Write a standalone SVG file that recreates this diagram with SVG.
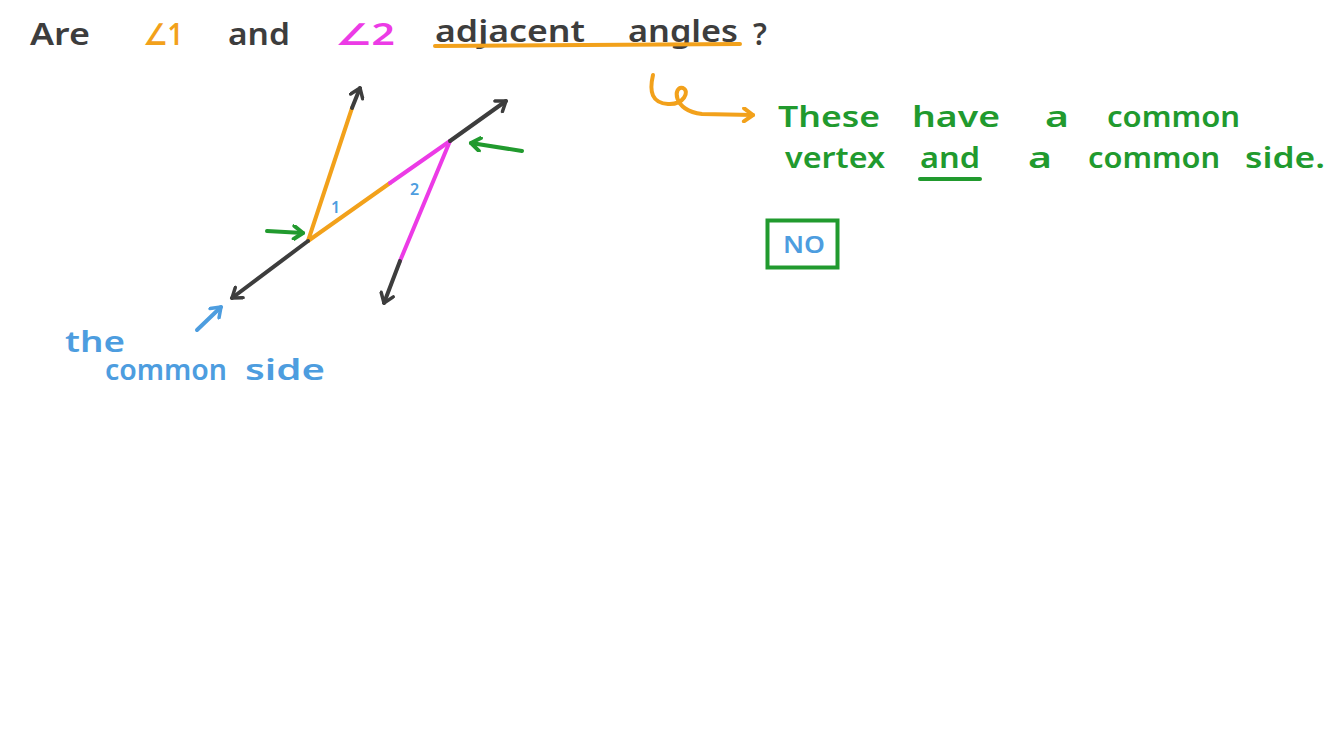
<svg xmlns="http://www.w3.org/2000/svg" width="1344" height="756" viewBox="0 0 1344 756">
<style>
  .t { font-family: "Noto Sans", "DejaVu Sans", sans-serif; font-weight: 600; }
  .dark { fill: #3d3d3d; }
  .org { fill: #f2a11b; }
  .pnk { fill: #ec3be6; }
  .grn { fill: #219a2e; }
  .blu { fill: #4d9ddf; }
  .ln { fill: none; stroke-width: 4; stroke-linecap: round; stroke-linejoin: round; }
  .sd { stroke: #3d3d3d; }
  .so { stroke: #f2a11b; }
  .sp { stroke: #ec3be6; }
  .sg { stroke: #219a2e; }
  .sb { stroke: #4d9ddf; }
</style>
<defs>
  <marker id="hd" markerUnits="userSpaceOnUse" viewBox="0 0 16 16" markerWidth="16" markerHeight="16" refX="13" refY="8" orient="auto">
    <path d="M4,1.5 L13,8 L4,14.5" fill="none" stroke="#3d3d3d" stroke-width="3.5" stroke-linecap="round" stroke-linejoin="round"/>
  </marker>
  <marker id="hg" markerUnits="userSpaceOnUse" viewBox="0 0 16 16" markerWidth="16" markerHeight="16" refX="13" refY="8" orient="auto">
    <path d="M4,1.5 L13,8 L4,14.5" fill="none" stroke="#219a2e" stroke-width="4" stroke-linecap="round" stroke-linejoin="round"/>
  </marker>
  <marker id="hb" markerUnits="userSpaceOnUse" viewBox="0 0 16 16" markerWidth="16" markerHeight="16" refX="13" refY="8" orient="auto">
    <path d="M4,1.5 L13,8 L4,14.5" fill="none" stroke="#4d9ddf" stroke-width="3.5" stroke-linecap="round" stroke-linejoin="round"/>
  </marker>
  <marker id="ho" markerUnits="userSpaceOnUse" viewBox="0 0 16 16" markerWidth="16" markerHeight="16" refX="13" refY="8" orient="auto">
    <path d="M4,1.5 L13,8 L4,14.5" fill="none" stroke="#f2a11b" stroke-width="4" stroke-linecap="round" stroke-linejoin="round"/>
  </marker>
</defs>
<rect width="1344" height="756" fill="#ffffff"/>

<g id="question">
  <text class="t dark" x="30" y="45" font-size="30" textLength="60" lengthAdjust="spacingAndGlyphs">Are</text>
  <text class="t org" x="143" y="45" font-size="30" textLength="40" lengthAdjust="spacingAndGlyphs">∠1</text>
  <text class="t dark" x="228" y="45" font-size="30" textLength="62" lengthAdjust="spacingAndGlyphs">and</text>
  <text class="t pnk" x="335" y="45" font-size="30" textLength="60" lengthAdjust="spacingAndGlyphs">∠2</text>
  <text class="t dark" x="435" y="42" font-size="30" textLength="150" lengthAdjust="spacingAndGlyphs">adjacent</text>
  <text class="t dark" x="628" y="42" font-size="30" textLength="110" lengthAdjust="spacingAndGlyphs">angles</text>
  <text class="t dark" x="753" y="45" font-size="30">?</text>
  <path class="ln so" d="M435,46 L740,44"/>
</g>

<g id="figure">
  <path class="ln so" d="M308,241 L352,108"/>
  <path class="ln so" d="M308,241 L390,183"/>
  <path class="ln sp" d="M390,183 L450,141"/>
  <path class="ln sp" d="M450,141 L400,261"/>
  <text class="t blu" x="331" y="213" font-size="16">1</text>
  <text class="t blu" x="410" y="195" font-size="16">2</text>
</g>

<g id="connectors">
  <path class="ln sd" d="M352,108 L360,88" marker-end="url(#hd)"/>
  <path class="ln sd" d="M450,141 L506,101" marker-end="url(#hd)"/>
  <path class="ln sd" d="M308,241 L232,298" marker-end="url(#hd)"/>
  <path class="ln sd" d="M400,261 L384,303" marker-end="url(#hd)"/>
  <path class="ln sg" d="M267,231 L303,233" marker-end="url(#hg)"/>
  <path class="ln sg" d="M522,151 L471,143" marker-end="url(#hg)"/>
  <path class="ln sb" d="M197,330 L221,307" marker-end="url(#hb)"/>
  <path class="ln so" d="M653,75 C649,92 652,103 668,104 C684,105 690,91 683,88 C673,85 672,111 702,114 L753,115" marker-end="url(#ho)"/>
</g>

<g id="note">
  <text class="t grn" x="778" y="127" font-size="28" textLength="102" lengthAdjust="spacingAndGlyphs">These</text>
  <text class="t grn" x="912" y="127" font-size="28" textLength="88" lengthAdjust="spacingAndGlyphs">have</text>
  <text class="t grn" x="1045" y="127" font-size="28" textLength="24" lengthAdjust="spacingAndGlyphs">a</text>
  <text class="t grn" x="1107" y="127" font-size="28" textLength="133" lengthAdjust="spacingAndGlyphs">common</text>
  <text class="t grn" x="785" y="168" font-size="28" textLength="100" lengthAdjust="spacingAndGlyphs">vertex</text>
  <text class="t grn" x="920" y="168" font-size="28" textLength="60" lengthAdjust="spacingAndGlyphs">and</text>
  <text class="t grn" x="1028" y="168" font-size="28" textLength="24" lengthAdjust="spacingAndGlyphs">a</text>
  <text class="t grn" x="1088" y="168" font-size="28" textLength="132" lengthAdjust="spacingAndGlyphs">common</text>
  <text class="t grn" x="1245" y="168" font-size="28" textLength="80" lengthAdjust="spacingAndGlyphs">side.</text>
  <path class="ln sg" d="M920,179 L980,179"/>
</g>

<g id="answer">
  <rect x="767.5" y="220.5" width="70" height="47" fill="none" stroke="#219a2e" stroke-width="4"/>
  <text class="t blu" x="783" y="253" font-size="24" textLength="42" lengthAdjust="spacingAndGlyphs">NO</text>
</g>

<g id="side-label">
  <text class="t blu" x="65" y="352" font-size="28" textLength="60" lengthAdjust="spacingAndGlyphs">the</text>
  <text class="t blu" x="105" y="380" font-size="28" textLength="122" lengthAdjust="spacingAndGlyphs">common</text>
  <text class="t blu" x="245" y="380" font-size="28" textLength="80" lengthAdjust="spacingAndGlyphs">side</text>
</g>
</svg>
